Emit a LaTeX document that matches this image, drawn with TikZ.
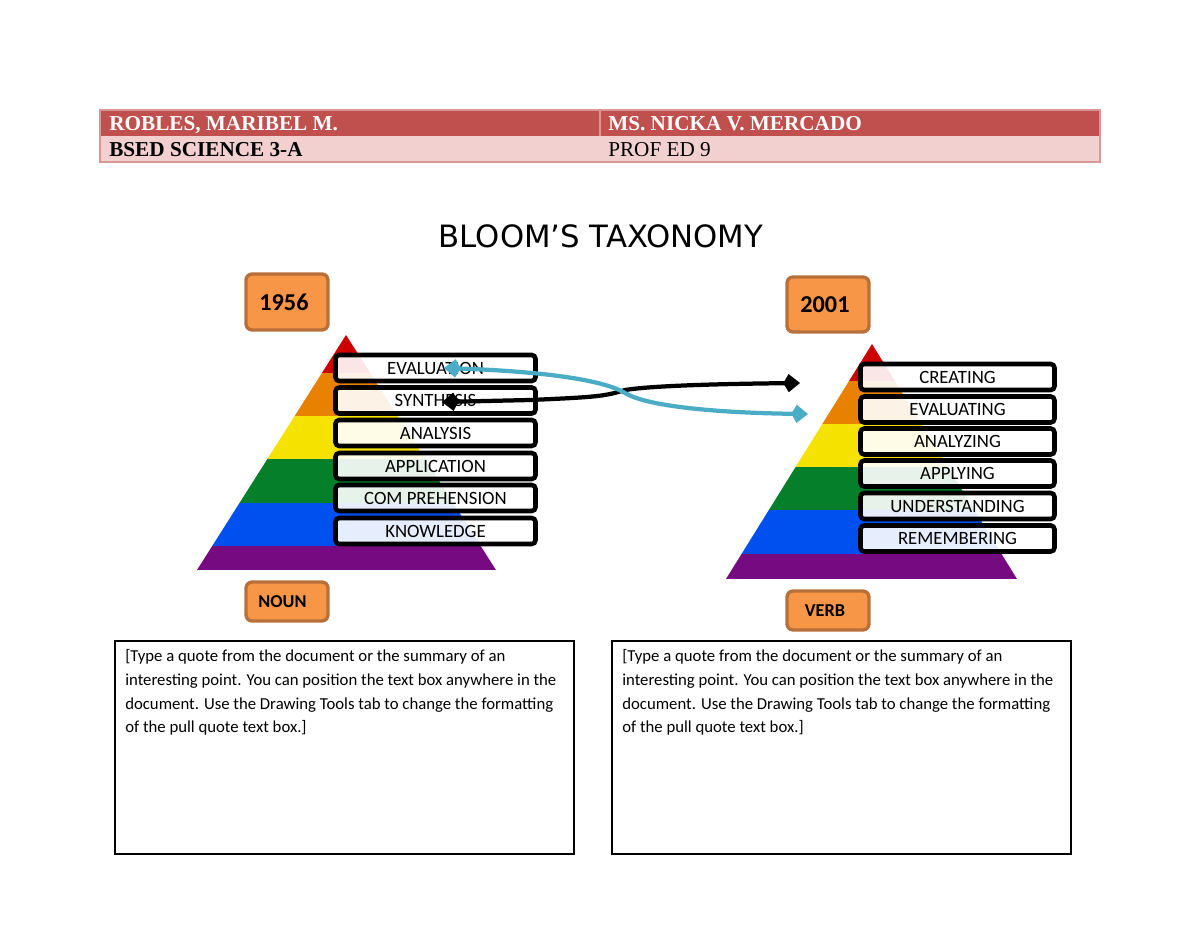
\documentclass[tikz,border=0pt]{standalone}
\usepackage{fontspec}
\setmainfont{Carlito}
\newfontfamily\headfont{Liberation Serif}
\newfontfamily\titlefont{DejaVu Sans}
\usetikzlibrary{arrows.meta}
\definecolor{headred}{HTML}{C0504D}
\definecolor{headpink}{HTML}{F2D0D0}
\definecolor{headline}{HTML}{D99694}
\definecolor{tagfill}{HTML}{F79646}
\definecolor{tagline}{HTML}{B8703A}
\definecolor{linkblue}{HTML}{4BACC6}
\definecolor{barred}{HTML}{CC0000}
\definecolor{barorange}{HTML}{E88000}
\definecolor{baryellow}{HTML}{F6E200}
\definecolor{bargreen}{HTML}{067F2A}
\definecolor{barblue}{HTML}{0050F0}
\definecolor{barpurple}{HTML}{760A80}
\tikzset{
	headtext/.style={font=\headfont\fontsize{14}{16}\selectfont\bfseries, anchor=base west, inner sep=0pt},
	tag/.style={draw=tagline, fill=tagfill, line width=2.2pt, rounded corners=4pt, minimum width=82*.66pt, inner sep=0pt},
	level/.style={draw=black, line width=3pt, rounded corners=2.5pt, fill=white, fill opacity=.9, text opacity=1, minimum height=26*.66pt, inner sep=0pt, font=\fontsize{12.4}{14}\selectfont},
	quotebox/.style={draw=black, line width=1.5pt, anchor=north west, minimum width=459*.66pt, minimum height=213*.66pt, inner sep=0pt},
	quotetext/.style={anchor=north west, align=left, inner sep=0pt, font=\fontsize{11.05}{15.6}\selectfont},
	link/.style={line width=2.8pt, <->, >={Kite[length=11pt,width=12pt,inset=3.5pt]}}
}
\begin{document}
\begin{tikzpicture}[x=.66pt,y=-.66pt]
	\useasboundingbox (0,0) rectangle (1200,927);

	% table
	\fill[headred] (100,110) rectangle (1100,136);
	\fill[headpink] (100,136) rectangle (1100,162);
	\draw[headline, line width=1.2pt] (100,110) rectangle (1100,162);
	\draw[headline, line width=1.2pt] (600,110) -- (600,136);
	\node[headtext, text=white] (name) at (109,130) {ROBLES, MARIBEL M.};
	\node[headtext, text=white] (teacher) at (608,130) {MS. NICKA V. MERCADO};
	\node[headtext] (course) at (109,156) {BSED SCIENCE 3-A};
	\node[headtext, font=\headfont\fontsize{14}{16}\selectfont] (subject) at (608,156) {PROF ED 9};

	\node[font=\titlefont\fontsize{20.3}{24}\selectfont] (title) at (601,236) {BLOOM’S TAXONOMY};

	% left pyramid
	\begin{scope}
		\clip (346,335) -- (496,570) -- (197,570) -- cycle;
		\fill[barred] (190,335) rectangle (500,373);
		\fill[barorange] (190,373) rectangle (500,416);
		\fill[baryellow] (190,416) rectangle (500,459);
		\fill[bargreen] (190,459) rectangle (500,503);
		\fill[barblue] (190,503) rectangle (500,546);
		\fill[barpurple] (190,546) rectangle (500,570);
	\end{scope}

	% right pyramid
	\begin{scope}
		\clip (872,344) -- (1017,579) -- (726,579) -- cycle;
		\fill[barred] (720,344) rectangle (1020,381);
		\fill[barorange] (720,381) rectangle (1020,424);
		\fill[baryellow] (720,424) rectangle (1020,467);
		\fill[bargreen] (720,467) rectangle (1020,510);
		\fill[barblue] (720,510) rectangle (1020,554);
		\fill[barpurple] (720,554) rectangle (1020,579);
	\end{scope}

	\node[tag, minimum height=56*.66pt, font=\bfseries\fontsize{16}{18}\selectfont, text width=78*.66pt, align=center] (yearold) at (287,302) {\hspace*{-4pt}1956};
	\node[tag, minimum height=39*.66pt, font=\bfseries\fontsize{12}{14}\selectfont, text width=78*.66pt, align=center] (noun) at (287,601.5) {\hspace*{-6pt}NOUN};
	\node[tag, minimum height=55*.66pt, font=\bfseries\fontsize{16}{18}\selectfont, text width=78*.66pt, align=center] (yearnew) at (828,304.5) {\hspace*{-4pt}2001};
	\node[tag, minimum height=39*.66pt, font=\bfseries\fontsize{12}{14}\selectfont, text width=78*.66pt, align=center] (verb) at (828,610.5) {\hspace*{-4pt}VERB};

	\node[level, minimum width=200*.66pt] (evaluation) at (435.5,368) {EVALUATION};
	\node[level, minimum width=200*.66pt] (synthesis) at (435.5,400.5) {SYNTHESIS};
	\node[level, minimum width=200*.66pt] (analysis) at (435.5,433) {ANALYSIS};
	\node[level, minimum width=200*.66pt] (application) at (435.5,466) {APPLICATION};
	\node[level, minimum width=200*.66pt] (comprehension) at (435.5,498) {COM PREHENSION};
	\node[level, minimum width=200*.66pt] (knowledge) at (435.5,531) {KNOWLEDGE};

	\node[level, minimum width=194*.66pt] (creating) at (957.5,377) {CREATING};
	\node[level, minimum width=194*.66pt] (evaluating) at (957.5,409.5) {EVALUATING};
	\node[level, minimum width=194*.66pt] (analyzing) at (957.5,441.5) {ANALYZING};
	\node[level, minimum width=194*.66pt] (applying) at (957.5,473.5) {APPLYING};
	\node[level, minimum width=194*.66pt] (understanding) at (957.5,506) {UNDERSTANDING};
	\node[level, minimum width=194*.66pt] (remembering) at (957.5,538.5) {REMEMBERING};

	% links
	\coordinate (blueleft) at (444,368);
	\coordinate (blueright) at (808,414);
	\coordinate (blackleft) at (442,402);
	\coordinate (blackright) at (800,383);
	\draw[link, black] (blackleft) -- (530,400) .. controls (600,397) and (605,396) .. (625,390) .. controls (650,386) and (710,384) .. (blackright);
	\draw[link, linkblue] (blueleft) .. controls (530,371) and (600,378) .. (625,393) .. controls (650,408) and (730,413) .. (blueright);

	% quote boxes
	\node[quotebox] (quoteleft) at (113.5,639.5) {};
	\node[quotebox] (quoteright) at (610.5,639.5) {};
	\node[quotetext] (quotelefttext) at (125,649.5) {[Type a quote from the document or the summary of an\\interesting point. You can position the text box anywhere in the\\document. Use the Drawing Tools tab to change the formatting\\of the pull quote text box.]};
	\node[quotetext] (quoterighttext) at (622,649.5) {[Type a quote from the document or the summary of an\\interesting point. You can position the text box anywhere in the\\document. Use the Drawing Tools tab to change the formatting\\of the pull quote text box.]};
\end{tikzpicture}
\end{document}
